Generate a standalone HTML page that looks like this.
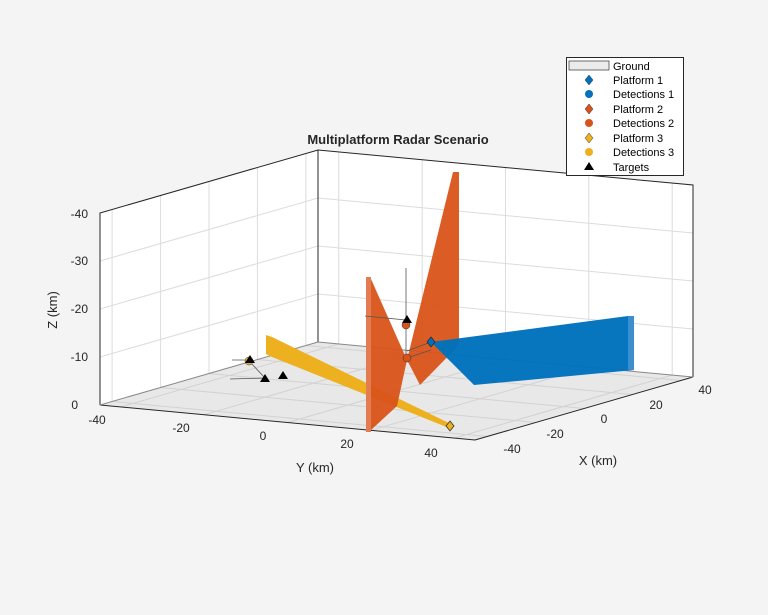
<!DOCTYPE html>
<html><head><meta charset="utf-8"><style>
body{margin:0;background:#f4f4f4;}
svg{display:block;font-family:"Liberation Sans",Arial,sans-serif;}
</style></head><body>
<svg width="768" height="615" viewBox="0 0 768 615">
<rect width="768" height="615" fill="#f4f4f4"/>
<polygon points="100,213 318,150 693,185 693,377 475,440 100,405" fill="#fff"/>
<polygon points="100,405 318,342 693,377 475,440" fill="#e8e8e8"/>
<g stroke="#dcdcdc" stroke-width="1" fill="none">
<polyline points="100,357 318,294 693,329"/>
<polyline points="100,309 318,246 693,281"/>
<polyline points="100,261 318,198 693,233"/>
<line x1="112.1" y1="401.5" x2="112.1" y2="209.5"/>
<line x1="160.6" y1="387.5" x2="160.6" y2="195.5"/>
<line x1="209" y1="373.5" x2="209" y2="181.5"/>
<line x1="257.4" y1="359.5" x2="257.4" y2="167.5"/>
<line x1="305.9" y1="345.5" x2="305.9" y2="153.5"/>
<line x1="338.8" y1="343.9" x2="338.8" y2="151.9"/>
<line x1="422.2" y1="351.7" x2="422.2" y2="159.7"/>
<line x1="505.5" y1="359.5" x2="505.5" y2="167.5"/>
<line x1="588.8" y1="367.3" x2="588.8" y2="175.3"/>
<line x1="672.2" y1="375.1" x2="672.2" y2="183.1"/>
</g>
<g stroke="#d2d2d2" stroke-width="1" fill="none">
<line x1="112.1" y1="401.5" x2="487.1" y2="436.5"/>
<line x1="160.6" y1="387.5" x2="535.6" y2="422.5"/>
<line x1="209" y1="373.5" x2="584" y2="408.5"/>
<line x1="257.4" y1="359.5" x2="632.4" y2="394.5"/>
<line x1="305.9" y1="345.5" x2="680.9" y2="380.5"/>
<line x1="120.8" y1="406.9" x2="338.8" y2="343.9"/>
<line x1="204.2" y1="414.7" x2="422.2" y2="351.7"/>
<line x1="287.5" y1="422.5" x2="505.5" y2="359.5"/>
<line x1="370.8" y1="430.3" x2="588.8" y2="367.3"/>
<line x1="454.2" y1="438.1" x2="672.2" y2="375.1"/>
</g>
<g stroke="#262626" stroke-width="1" fill="none">
<polyline points="100,405 100,213 318,150 693,185 693,377"/>
<line x1="318" y1="150" x2="318" y2="342"/>
<line x1="100" y1="405" x2="475" y2="440"/>
<line x1="475" y1="440" x2="693" y2="377"/>
<line x1="318" y1="342" x2="100" y2="405" stroke="#888"/>
<line x1="318" y1="342" x2="693" y2="377" stroke="#888"/>
</g>
<g font-size="12" fill="#262626" text-anchor="end">
<text x="78" y="409">0</text>
<text x="88" y="361">-10</text>
<text x="88" y="313">-20</text>
<text x="88" y="265">-30</text>
<text x="88" y="218">-40</text>
</g>
<g font-size="12" fill="#262626" text-anchor="middle">
<text x="97" y="424">-40</text>
<text x="181" y="432">-20</text>
<text x="263" y="440">0</text>
<text x="347" y="448">20</text>
<text x="431" y="457">40</text>
<text x="512" y="453">-40</text>
<text x="555" y="438">-20</text>
<text x="604" y="423">0</text>
<text x="656" y="409">20</text>
<text x="705" y="394">40</text>
</g>
<g font-size="13" fill="#262626" text-anchor="middle">
<text x="315" y="472">Y (km)</text>
<text x="598" y="465">X (km)</text>
<text transform="translate(57,310) rotate(-90)">Z (km)</text>
<text x="398" y="144" font-weight="bold">Multiplatform Radar Scenario</text>
</g>
<polygon points="266,335 272,337 451,424 449,428 272,357 266,354" fill="#EDB120"/>
<polygon points="407,360 453,172 459,172 459,345 420,385" fill="#D95319" opacity="0.95"/>
<polygon points="366,277 371,279 407,360 397,406 371,430 366,432" fill="#D95319" opacity="0.95"/>
<rect x="366" y="277" width="5" height="155" fill="#e37c50"/>
<polygon points="431,342 628,316 634,316 634,370 474,385" fill="#0072BD" opacity="0.97"/>
<rect x="628" y="316" width="6" height="54" fill="#3b8fcf"/>
<g stroke="#555" stroke-width="0.8">
<line x1="406" y1="268" x2="406" y2="356"/>
<line x1="365" y1="316" x2="406" y2="320"/>
<line x1="232" y1="360" x2="250" y2="360"/>
<line x1="230" y1="379" x2="265" y2="378"/>
<line x1="250" y1="362" x2="265" y2="378"/>
<line x1="407" y1="351" x2="431" y2="342"/>
<line x1="407" y1="358" x2="431" y2="350"/>
</g>
<polygon points="431,337 435,342 431,347 427,342" fill="#0072BD" stroke="#222" stroke-width="0.7"/>
<circle cx="407" cy="358" r="4" fill="#D95319" stroke="#333" stroke-width="0.5"/>
<circle cx="406" cy="325" r="4" fill="#D95319" stroke="#333" stroke-width="0.5"/>
<polygon points="450,421 454,426 450,431 446,426" fill="#EDB120" stroke="#222" stroke-width="0.7"/>
<circle cx="249" cy="361" r="4" fill="#EDB120" stroke="#333" stroke-width="0.5"/>
<g fill="#000">
<polygon points="407,315 412,323 402,323"/>
<polygon points="250,355 255,363 245,363"/>
<polygon points="265,374 270,382 260,382"/>
<polygon points="283,371 288,379 278,379"/>
</g>
<rect x="566.5" y="57.5" width="117" height="118" fill="#fff" stroke="#262626" stroke-width="1"/>
<rect x="569" y="61" width="40" height="9" fill="#ebebeb" stroke="#333" stroke-width="0.7"/>
<polygon points="589,75 593,80 589,85 585,80" fill="#0072BD" stroke="#333" stroke-width="0.5"/>
<circle cx="589" cy="94" r="4" fill="#0072BD"/>
<polygon points="589,104 593,109 589,114 585,109" fill="#D95319" stroke="#333" stroke-width="0.5"/>
<circle cx="589" cy="123" r="4" fill="#D95319"/>
<polygon points="589,133 593,138 589,143 585,138" fill="#EDB120" stroke="#333" stroke-width="0.5"/>
<circle cx="589" cy="152" r="4" fill="#EDB120"/>
<polygon points="589,162 594,170 584,170" fill="#000"/>
<g font-size="11" fill="#000">
<text x="613" y="70">Ground</text>
<text x="613" y="84">Platform 1</text>
<text x="613" y="98">Detections 1</text>
<text x="613" y="113">Platform 2</text>
<text x="613" y="127">Detections 2</text>
<text x="613" y="142">Platform 3</text>
<text x="613" y="156">Detections 3</text>
<text x="613" y="171">Targets</text>
</g>
</svg>
</body></html>
